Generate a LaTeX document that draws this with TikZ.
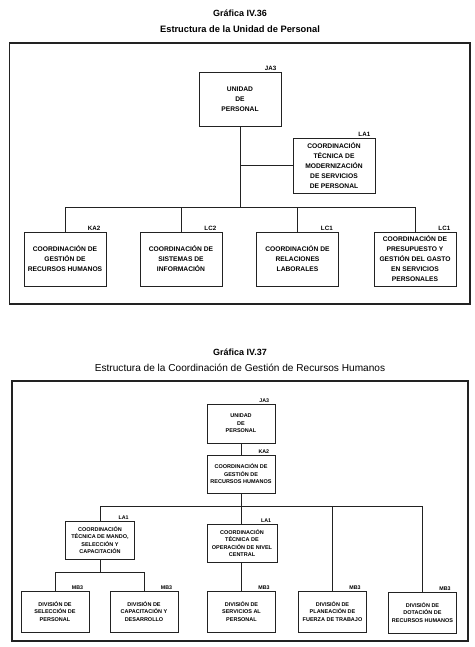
\documentclass[tikz,border=0pt]{standalone}
\usepackage{fontspec}
\setmainfont{Liberation Sans}
\usepackage{tikz}
\usepackage{xcolor}
\definecolor{linegray}{HTML}{222222}

\tikzset{
    frame/.style={draw=linegray, line width=1.3pt},
    unitbox/.style={draw=linegray, line width=0.8pt, align=center, inner sep=1pt,
        font=\bfseries\fontsize{6.7}{10}\selectfont},
    smallbox/.style={draw=linegray, line width=0.7pt, align=center, inner sep=1pt,
        font=\bfseries\fontsize{5.5}{7.5}\selectfont},
    codelabel/.style={anchor=south east, inner sep=1pt, font=\bfseries\fontsize{6.2}{7}\selectfont},
    smallcode/.style={anchor=south east, inner sep=1pt, font=\bfseries\fontsize{5.3}{6}\selectfont},
    conn/.style={draw=linegray, line width=0.8pt},
}

\begin{document}
\begin{tikzpicture}[x=1pt, y=-1pt]
        \useasboundingbox (0,0) rectangle (474,647);
        \def\bw{82}
        \def\bh{54}
        \def\sw{68}
        % Titles
        \node (T1) at (240,13) {\bfseries\fontsize{9}{10}\selectfont Gráfica IV.36};
        \node (S1) at (240,29) {\bfseries\fontsize{9.3}{10}\selectfont Estructura de la Unidad de Personal};
        \node (T2) at (240,352) {\bfseries\fontsize{9}{10}\selectfont Gráfica IV.37};
        \node (S2) at (240,368) {\fontsize{10.1}{11}\selectfont Estructura de la Coordinación de Gestión de Recursos Humanos};
        % Frames
        \draw[frame] (9.5,43) rectangle (470,304);
        \draw[frame] (12,381) rectangle (468,641);

        % Nodes (first chart)
        \node[unitbox, minimum width=\bw, minimum height=\bh] (UP) at (240,99) {UNIDAD\\DE\\PERSONAL};
        \node[unitbox, minimum width=\bw, minimum height=55] (CTM) at (334,165.5) {COORDINACIÓN\\TÉCNICA DE\\MODERNIZACIÓN\\DE SERVICIOS\\DE PERSONAL};
        \node[unitbox, minimum width=\bw, minimum height=\bh] (CGRH) at (65,259) {COORDINACIÓN DE\\GESTIÓN DE\\RECURSOS HUMANOS};
        \node[unitbox, minimum width=\bw, minimum height=\bh] (CSI) at (181,259) {COORDINACIÓN DE\\SISTEMAS DE\\INFORMACIÓN};
        \node[unitbox, minimum width=\bw, minimum height=\bh] (CRL) at (297.5,259) {COORDINACIÓN DE\\RELACIONES\\LABORALES};
        \node[unitbox, minimum width=\bw, minimum height=\bh] (CPG) at (415,259) {COORDINACIÓN DE\\PRESUPUESTO Y\\GESTIÓN DEL GASTO\\EN SERVICIOS\\PERSONALES};
        % Codes
        \node[codelabel] (UPc) at ([xshift=-4pt]UP.north east) {JA3};
        \node[codelabel] (CTMc) at ([xshift=-4pt]CTM.north east) {LA1};
        \node[codelabel] (CGRHc) at ([xshift=-5pt]CGRH.north east) {KA2};
        \node[codelabel] (CSIc) at ([xshift=-5pt]CSI.north east) {LC2};
        \node[codelabel] (CRLc) at ([xshift=-5pt]CRL.north east) {LC1};
        \node[codelabel] (CPGc) at ([xshift=-5pt]CPG.north east) {LC1};
        % Lines
        \coordinate (B1) at (240,207);
        \draw[conn] (UP.south) -- (B1);
        \draw[conn] (UP.south |- CTM.west) -- (CTM.west);
        \draw[conn] (CGRH.north) -- (CGRH.north |- B1) -- (CPG.north |- B1) -- (CPG.north);
        \draw[conn] (CSI.north) -- (CSI.north |- B1);
        \draw[conn] (CRL.north) -- (CRL.north |- B1);

        % Nodes (second chart)
        \node[smallbox, minimum width=\sw, minimum height=39] (UP2) at (241,423.5) {UNIDAD\\DE\\PERSONAL};
        \node[smallbox, minimum width=\sw, minimum height=38] (CG2) at (241,474) {COORDINACIÓN DE\\GESTIÓN DE\\RECURSOS HUMANOS};
        \node[smallbox, minimum width=69, minimum height=38] (CTS) at (100,540) {COORDINACIÓN\\TÉCNICA DE MANDO,\\SELECCIÓN Y\\CAPACITACIÓN};
        \node[smallbox, minimum width=70, minimum height=38] (CTO) at (242,543) {COORDINACIÓN\\TÉCNICA DE\\OPERACIÓN DE NIVEL\\CENTRAL};
        \node[smallbox, minimum width=\sw, minimum height=41] (DSP) at (55,611.5) {DIVISIÓN DE\\SELECCIÓN DE\\PERSONAL};
        \node[smallbox, minimum width=\sw, minimum height=41] (DCD) at (144,611.5) {DIVISIÓN DE\\CAPACITACIÓN Y\\DESARROLLO};
        \node[smallbox, minimum width=\sw, minimum height=41] (DSA) at (241.5,611.5) {DIVISIÓN DE\\SERVICIOS AL\\PERSONAL};
        \node[smallbox, minimum width=\sw, minimum height=41] (DPF) at (332.5,611.5) {DIVISIÓN DE\\PLANEACIÓN DE\\FUERZA DE TRABAJO};
        \node[smallbox, minimum width=\sw, minimum height=41] (DDR) at (422.5,612.5) {DIVISIÓN DE\\DOTACIÓN DE\\RECURSOS HUMANOS};
        % Codes
        \node[smallcode] (UP2c) at ([xshift=-5pt]UP2.north east) {JA3};
        \node[smallcode] (CG2c) at ([xshift=-5pt]CG2.north east) {KA2};
        \node[smallcode] (CTSc) at ([xshift=-5pt]CTS.north east) {LA1};
        \node[smallcode] (CTOc) at ([xshift=-5pt]CTO.north east) {LA1};
        \node[smallcode] (DSPc) at ([xshift=-5pt]DSP.north east) {MB3};
        \node[smallcode] (DCDc) at ([xshift=-5pt]DCD.north east) {MB3};
        \node[smallcode] (DSAc) at ([xshift=-5pt]DSA.north east) {MB3};
        \node[smallcode] (DPFc) at ([xshift=-5pt]DPF.north east) {MB3};
        \node[smallcode] (DDRc) at ([xshift=-5pt]DDR.north east) {MB3};
        % Lines
        \coordinate (B2) at (241,506);
        \coordinate (B3) at (100,572);
        \draw[conn] (UP2.south) -- (CG2.north);
        \draw[conn] (CG2.south) -- (B2);
        \draw[conn] (CTS.north) -- (CTS.north |- B2) -- (DDR.north |- B2) -- (DDR.north);
        \draw[conn] (DPF.north) -- (DPF.north |- B2);
        \draw[conn] (B2) -- (B2 |- CTO.north);
        \draw[conn] (B2 |- CTO.south) -- (B2 |- DSA.north);
        \draw[conn] (CTS.south) -- (B3);
        \draw[conn] (DSP.north) -- (DSP.north |- B3) -- (DCD.north |- B3) -- (DCD.north);
    \end{tikzpicture}
\end{document}
